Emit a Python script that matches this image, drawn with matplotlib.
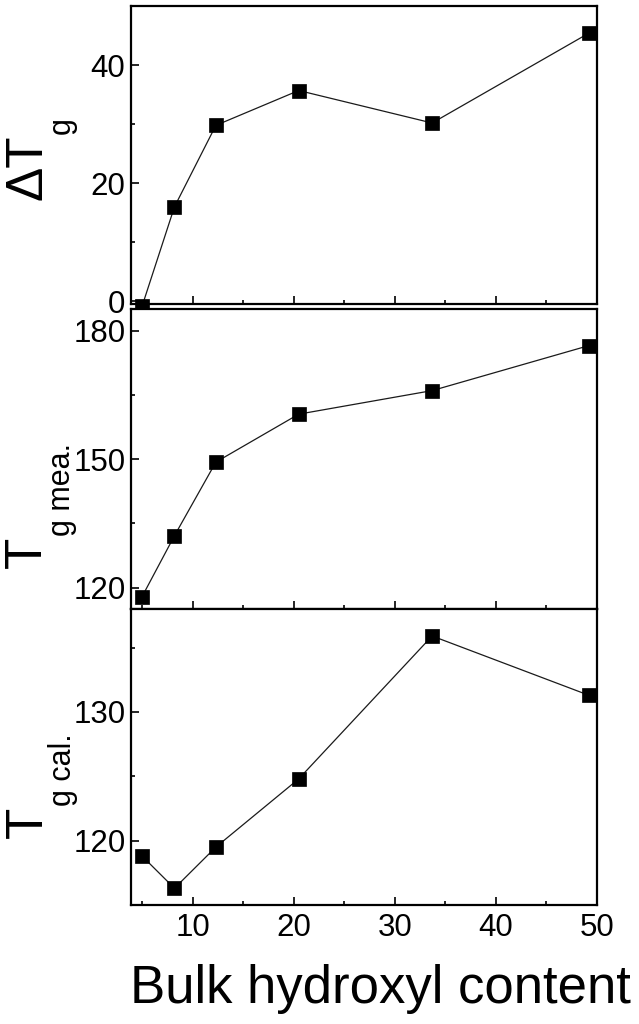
#!/usr/bin/env python3
"""Glass transition vs bulk hydroxyl content, three stacked panels."""

import matplotlib
matplotlib.use("Agg")
import matplotlib.pyplot as plt
import matplotlib.ticker as mticker

plt.rcParams.update(
    {
        "font.family": ["Liberation Sans", "DejaVu Sans"],
        "font.size": 22,
        "axes.linewidth": 1.6,
        "xtick.direction": "in",
        "ytick.direction": "in",
        "xtick.major.size": 5.5,
        "ytick.major.size": 5.5,
        "xtick.minor.size": 3,
        "ytick.minor.size": 3,
        "xtick.major.width": 1.2,
        "ytick.major.width": 1.2,
        "xtick.minor.width": 1.2,
        "ytick.minor.width": 1.2,
        "xtick.labelsize": 22.5,
        "ytick.labelsize": 22.5,
    }
)

# bulk hydroxyl content (x) and the three measured quantities
hydroxyl = [5.0, 8.2, 12.3, 20.5, 33.7, 49.2]
delta_tg = [-0.8, 16.0, 29.8, 35.7, 30.2, 45.4]
tg_measured = [117.9, 132.1, 149.3, 160.5, 166.0, 176.5]
tg_calculated = [118.8, 116.3, 119.5, 124.8, 135.9, 131.3]

fig = plt.figure(figsize=(6.39, 10.24), dpi=100)
left, width = 0.205, 0.729
ax1 = fig.add_axes([left, 0.7028, width, 0.2913])
ax2 = fig.add_axes([left, 0.4053, width, 0.2927], sharex=ax1)
ax3 = fig.add_axes([left, 0.1162, width, 0.2891], sharex=ax1)

panels = (
    (ax1, delta_tg, (-0.5, 50), 20, 10),
    (ax2, tg_measured, (115, 185), 30, 15),
    (ax3, tg_calculated, (115, 138), 10, 5),
)

for ax, values, ylim, major, minor in panels:
    ax.plot(
        hydroxyl,
        values,
        color="#1a1a1a",
        linewidth=0.9,
        marker="s",
        markersize=9.5,
        markerfacecolor="black",
        markeredgecolor="black",
        markeredgewidth=0.5,
        clip_on=False,
        zorder=3,
    )
    ax.set_ylim(*ylim)
    ax.yaxis.set_major_locator(mticker.MultipleLocator(major))
    ax.yaxis.set_minor_locator(mticker.MultipleLocator(minor))
    ax.tick_params(axis="y", which="both", pad=4, right=False)
    ax.tick_params(axis="x", which="both", top=False, pad=6)

ax1.set_xlim(3.9, 50)
ax1.xaxis.set_major_locator(mticker.MultipleLocator(10))
ax1.xaxis.set_minor_locator(mticker.MultipleLocator(5))
ax1.tick_params(axis="x", labelbottom=False)
ax2.tick_params(axis="x", labelbottom=False)

ax3.set_xlabel("Bulk hydroxyl content", fontsize=38)
ax3.xaxis.set_label_coords(0.535, -0.2)


def stacked_label(ax, main, sub, x, y):
    # main symbol plus a dropped subscript, both rotated
    t = ax.text(x, y, main, transform=ax.transAxes, rotation=90,
                fontsize=37, ha="center", va="center")
    ax.annotate(sub, xy=(1.0, 1.0), xycoords=t, xytext=(-3.5, 0),
                textcoords="offset points", rotation=90, fontsize=22,
                ha="left", va="bottom")


stacked_label(ax1, "ΔT", "g", -0.222, 0.46)
stacked_label(ax2, "T", "g mea.", -0.222, 0.19)
stacked_label(ax3, "T", "g cal.", -0.22, 0.28)

fig.savefig("out.png", dpi=100)
